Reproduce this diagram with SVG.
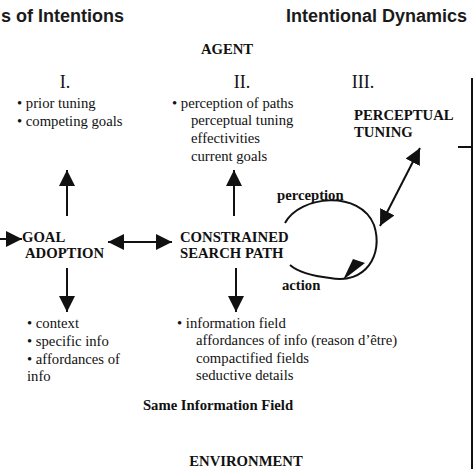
<svg xmlns="http://www.w3.org/2000/svg" width="474" height="474" viewBox="0 0 474 474">
<style>
.t{font-family:"Liberation Sans",Arial,sans-serif;font-weight:bold;font-size:18px;fill:#1a1a1a}
.h{font-family:"Liberation Serif","Times New Roman",serif;font-weight:bold;font-size:14.7px;fill:#111}
.r{font-family:"Liberation Serif","Times New Roman",serif;font-size:14.7px;fill:#111}
.n{font-family:"Liberation Serif","Times New Roman",serif;font-size:18px;fill:#111}
.ln{stroke:#111;stroke-width:2;fill:none}
</style>
<defs>
<marker id="ab" viewBox="0 0 10 10" refX="10" refY="5" markerWidth="8" markerHeight="8" orient="auto-start-reverse">
<path d="M0,0 L10,5 L0,10 z" fill="#111"/>
</marker>
</defs>
<rect width="474" height="474" fill="#fff"/>
<g id="titles">
<text class="t" x="1" y="22">s of Intentions</text>
<text class="t" x="286" y="22">Intentional Dynamics</text>
<text class="h" x="227" y="54" text-anchor="middle" font-size="14px">AGENT</text>
<text class="n" x="65" y="88" text-anchor="middle">I.</text>
<text class="n" x="242" y="88" text-anchor="middle">II.</text>
<text class="n" x="363" y="88" text-anchor="middle">III.</text>
<text class="h" x="218" y="410" text-anchor="middle">Same Information Field</text>
<text class="h" x="246" y="466" text-anchor="middle">ENVIRONMENT</text>
</g>
<g id="lists">
<text class="r" x="17" y="108">• prior tuning</text>
<text class="r" x="17" y="126">• competing goals</text>
<text class="r" x="172" y="108">• perception of paths</text>
<text class="r" x="191" y="125">perceptual tuning</text>
<text class="r" x="191" y="143">effectivities</text>
<text class="r" x="191" y="161">current goals</text>
<text class="r" x="27" y="328">• context</text>
<text class="r" x="27" y="346">• specific info</text>
<text class="r" x="27" y="364">• affordances of</text>
<text class="r" x="27" y="381">info</text>
<text class="r" x="177" y="328">• information field</text>
<text class="r" x="196" y="345">affordances of info (reason d’être)</text>
<text class="r" x="196" y="363">compactified fields</text>
<text class="r" x="196" y="380">seductive details</text>
</g>
<g id="goal">
<text class="h" x="22" y="242">GOAL</text>
<text class="h" x="25" y="258">ADOPTION</text>
</g>
<g id="search">
<text class="h" x="180" y="242">CONSTRAINED</text>
<text class="h" x="180" y="258">SEARCH PATH</text>
</g>
<g id="tuning">
<text class="h" x="354" y="120">PERCEPTUAL</text>
<text class="h" x="354" y="137">TUNING</text>
</g>
<g id="connectors">
<line class="ln" x1="67" y1="216" x2="67" y2="170" marker-end="url(#ab)"/>
<line class="ln" x1="234" y1="216" x2="234" y2="170" marker-end="url(#ab)"/>
<line class="ln" x1="67" y1="268" x2="67" y2="312" marker-end="url(#ab)"/>
<line class="ln" x1="236" y1="268" x2="236" y2="312" marker-end="url(#ab)"/>
<line class="ln" x1="0" y1="239" x2="22" y2="239" marker-end="url(#ab)"/>
<line class="ln" x1="108" y1="242" x2="172" y2="242" marker-start="url(#ab)" marker-end="url(#ab)"/>
<line class="ln" x1="420" y1="148" x2="380" y2="226" marker-start="url(#ab)" marker-end="url(#ab)"/>
<path class="ln" d="M285,223 C300,195 360,190 374,225 C384,255 365,285 330,278 C312,276 298,272 290,265"/>
<path d="M365,263 L343,280 L353,259 z" fill="#111"/>
<text class="h" x="277" y="200" font-size="13.6px">perception</text>
<text class="h" x="282" y="290" font-size="13.6px">action</text>
<line class="ln" x1="472" y1="78" x2="472" y2="469"/>
<line class="ln" x1="458" y1="147" x2="472" y2="147"/>
</g>
</svg>
